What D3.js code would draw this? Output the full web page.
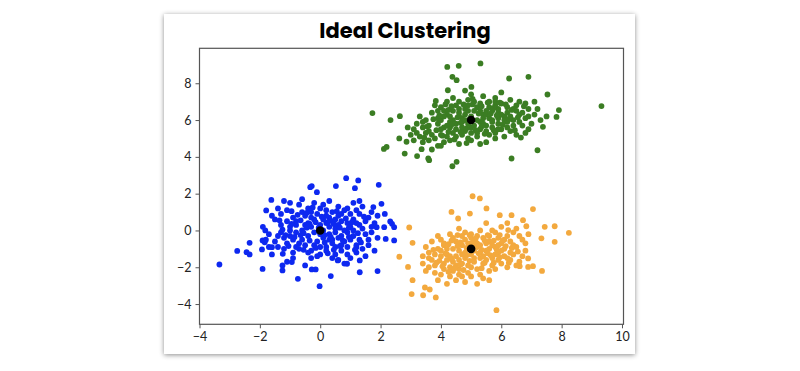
<!DOCTYPE html>
<html>
<head>
<meta charset="utf-8">
<script src="https://cdn.jsdelivr.net/npm/d3@7"></script>
<style>
  body { margin: 0; background: #fff; }
  .axis text { font-family: Lato, "Noto Sans", sans-serif; font-size: 12.5px; fill: #222; }
  .axis path, .axis line { stroke: #555; }
</style>
</head>
<body>
<script>
// cluster points
var greenPoints = [
  [1.73,6.38],[2.33,6.0],[2.64,6.21],[4.21,8.89],[4.59,8.95],[5.31,9.08],[4.38,8.35],[4.52,8.17],[6.26,8.26],[6.9,8.35],
  [9.32,6.76],[7.53,7.39],[7.91,6.54],[7.83,6.17],[2.11,4.43],[2.2,4.54],[2.8,4.18],[3.21,4.04],[3.61,3.82],[3.58,3.91],
  [4.38,3.49],[4.52,3.73],[6.34,3.91],[7.2,4.36],[4.23,7.62],[5.01,7.8],[3.83,7.04],[2.62,5.0],[2.86,4.82],[3.36,4.42],[7.38,5.63],
  [4.2,6.3],[4.8,6.6],[5.5,5.7],[5.9,6.4],[4.5,5.5],[3.9,5.8],[6.2,5.9],[5.3,6.9],[4.7,5.2],[5.8,5.3],
  [3.6,5.4],[6.5,6.5],[4.0,6.7],[5.0,5.6],[5.4,6.3],[4.4,6.0],[6.0,6.9],[3.3,5.1],[6.8,6.1],[4.9,7.1],
  [5.7,6.0],[4.6,6.4],[3.8,5.0],[6.3,5.4],[5.2,5.1],[4.1,5.6],[5.6,6.7],[6.6,7.0],[3.5,6.0],[4.3,4.9],
  [5.0,6.2],[5.3,5.9],[4.7,5.9],[6.1,6.2],[4.9,6.8],[3.7,6.4],[5.8,7.2],[6.9,6.6],[4.4,5.3],[5.5,5.4],
  [3.1,5.5],[4.0,5.2],[6.4,6.0],[5.1,6.5],[4.6,7.0],[5.9,5.8],[3.4,4.8],[7.1,6.3],[4.8,5.4],[5.7,6.5],
  [4.2,5.7],[6.2,6.7],[5.4,7.3],[3.9,6.1],[6.7,5.7],[4.5,6.8],[5.0,4.9],[5.6,6.1],[3.2,5.8],[6.0,5.5],
  [4.1,6.5],[5.2,6.7],[4.7,6.1],[6.5,6.8],[3.6,5.7],[5.8,5.0],[4.3,6.2],[6.9,5.5],[5.3,5.5],[4.9,5.8],
  [3.9,4.6],[6.3,7.1],[4.6,4.7],[5.5,6.5],[3.0,5.2],[7.3,6.0],[4.4,7.2],[5.9,6.6],[4.0,6.0],[6.1,5.1],
  [5.0,7.4],[3.5,5.3],[6.6,6.3],[4.8,6.3],[5.7,5.6],[4.2,5.1],[6.4,5.7],[3.8,6.8],[5.2,5.3],[6.8,6.9],
  [4.5,5.8],[5.4,6.1],[3.3,6.2],[6.0,7.5],[4.9,5.0],[5.6,7.0],[7.0,5.8],[4.1,4.8],[5.9,6.1],[3.7,5.2],
  [4.6,6.6],[6.2,6.4],[5.1,5.7],[3.4,5.6],[6.7,6.4],[4.3,5.6],[5.8,6.8],[4.8,7.6],[7.2,6.6],[5.5,4.8],
  [4.0,5.5],[6.1,6.0],[3.1,4.9],[5.3,6.5],[4.7,5.6],[6.5,5.2],[3.9,6.5],[5.7,5.9],[4.4,6.5],[6.3,6.2],
  [2.9,5.6],[5.0,5.3],[7.5,6.2],[4.2,7.0],[5.6,5.2],[3.6,4.9],[6.8,5.3],[4.9,6.5],[5.2,6.0],[6.0,6.3],
  [3.4,5.9],[4.5,5.1],[5.8,7.0],[6.6,5.9],[4.1,6.2],[5.4,5.8],[3.7,4.4],[7.1,7.0],[4.6,6.2],[5.9,5.5],
  [4.8,6.0],[6.4,6.6],[3.2,5.3],[5.1,7.0],[6.2,5.6],[4.3,5.9],[5.5,6.3],[4.0,4.6],[6.9,6.2],[5.3,4.7],
  [4.55,6.15],[5.25,6.35],[4.85,5.55],[5.65,6.35],[4.35,5.75],[5.95,6.95],[4.15,6.85],[5.45,5.25],[6.35,6.55],[3.85,5.45],
  [5.05,6.85],[4.65,5.35],[6.05,5.75],[4.25,6.55],[5.75,5.45],[3.55,5.65],[6.55,6.15],[4.95,6.05],[5.35,6.75],[4.45,4.95],
  [6.15,6.85],[3.95,6.25],[5.15,5.45],[5.85,6.25],[4.75,6.85],[6.45,5.45],[4.05,5.15],[5.55,6.95],[3.75,6.05],[6.75,6.75],
  [4.65,5.85],[5.35,5.65],[4.25,5.35],[6.25,6.05],[5.05,7.15],[3.45,5.05],[5.75,6.65],[4.85,4.75],[6.65,5.05],[4.35,6.75]
];

var bluePoints = [
  [-3.34,-1.85],[-2.75,-1.11],[-2.44,-1.18],[-2.34,-1.3],[-2.34,-0.67],[-1.91,-2.09],[-1.93,-1.03],[-1.91,-0.54],[-1.84,-0.64],[-1.82,0],
  [-1.79,1.09],[-1.62,1.66],[-1.25,-1.9],[-1.25,-2.17],[-0.94,-1.72],[-0.74,-2.63],[-1.6,-0.91],[-1.24,-1.27],[-0.33,2.35],
  [0.86,2.84],[1.26,2.72],[0.52,2.41],[1.15,2.3],[1.94,2.48],[-0.28,2.41],[-0.11,2.08],[2.03,1.45],[1.76,1.27],[2.14,0.9],
  [2.32,0.49],[2.38,0.36],[1.87,0.18],[2.12,0.18],[2.45,0.18],[2.17,-0.46],[2.45,-0.54],[0.89,-1.81],[1.31,-1.63],[1.31,-2.27],
  [1.9,-2.21],[-0.28,-2.12],[-0.15,-2.12],[0.35,-2.48],[-0.02,-3.03],[0.58,-1.63],[1.2,-0.91],
  [-0.8,0.3],[0.4,-0.5],[1.1,0.6],[-0.3,1.0],[0.7,-1.1],[-1.2,-0.4],[0.2,0.4],[1.5,-0.2],[-0.5,-0.8],[0.9,1.2],
  [-1.5,0.6],[0.0,-1.3],[1.3,0.9],[-0.9,-1.2],[0.5,0.1],[-0.2,0.6],[1.8,0.4],[-1.1,1.1],[0.3,-0.2],[0.8,-0.6],
  [-0.6,0.0],[1.0,0.2],[-1.4,-0.9],[0.1,1.4],[1.6,-0.8],[-0.4,-0.3],[0.6,0.8],[-1.0,0.2],[1.2,-1.2],[-0.1,-0.6],
  [0.4,1.0],[-1.7,-0.2],[0.9,-0.1],[-0.7,1.4],[1.4,0.1],[-0.3,-1.5],[0.2,-0.9],[-1.3,0.9],[1.9,-0.4],[0.6,-1.6],
  [-0.9,-0.5],[0.0,0.3],[1.1,1.5],[-0.5,0.8],[0.7,0.5],[-1.6,-1.3],[1.7,1.0],[-0.2,-0.1],[0.3,0.7],[-1.1,-1.7],
  [0.9,-0.9],[-0.6,1.7],[1.3,-0.5],[0.1,-0.4],[-0.8,-0.1],[1.6,0.7],[-1.3,0.3],[0.5,-1.3],[-0.4,0.4],[1.0,-1.5],
  [-1.9,0.2],[0.2,1.1],[1.4,-1.0],[-0.7,-1.0],[0.8,0.0],[-1.0,1.5],[0.4,-0.7],[1.2,1.1],[-0.1,0.9],[-1.5,-0.6],
  [0.6,0.3],[1.8,-1.1],[-0.3,-1.1],[0.0,-0.2],[-0.9,0.7],[1.1,-0.3],[0.3,1.6],[-1.2,-1.0],[0.7,-0.3],[1.5,0.5],
  [-0.5,-1.9],[0.1,0.6],[-1.4,1.2],[1.0,0.9],[-0.2,-0.8],[0.5,-0.1],[-0.8,0.5],[1.3,0.3],[-1.7,-0.9],[0.9,-1.3],
  [-0.4,1.2],[0.2,-1.1],[1.7,-0.1],[-1.0,-0.3],[0.6,1.3],[-0.6,-0.5],[1.2,-0.8],[-1.3,-0.1],[0.4,0.5],[0.0,1.2],
  [-1.1,0.5],[0.8,-1.8],[1.9,0.8],[-0.3,0.2],[-0.9,-1.5],[1.4,1.3],[0.3,-0.5],[-1.6,0.8],[0.7,0.9],[-0.1,-1.4],
  [1.0,-0.5],[-0.5,0.3],[0.5,-0.9],[1.6,-0.5],[-1.2,1.6],[0.1,0.0],[-0.7,-0.7],[1.1,0.0],[-0.2,1.5],[0.9,0.4],
  [-1.4,-0.3],[0.6,-0.4],[1.3,1.6],[-0.4,-1.2],[0.2,0.8],[-1.0,0.0],[1.5,-1.4],[-0.6,1.0],[0.4,-1.5],[0.8,1.1],
  [-1.8,-0.5],[0.0,-0.9],[1.2,0.4],[-0.8,-0.9],[0.3,0.2],[-0.3,0.7],[1.7,0.2],[-1.1,-0.7],[0.7,-0.8],[0.5,0.6],
  [-0.45,0.15],[0.35,-0.35],[-0.15,0.45],[0.65,0.15],[-0.65,-0.25],[0.15,-0.65],[-0.95,0.35],[0.85,0.65],[-0.35,-0.55],[1.25,-0.15],
  [-0.75,0.85],[0.45,0.35],[-1.15,-0.25],[0.95,-0.35],[-0.25,1.25],[0.25,-1.25],[-1.35,0.55],[1.45,0.75],[-0.55,-1.05],[0.55,1.05],
  [-0.05,0.15],[0.75,-0.55],[-0.85,-0.35],[1.05,0.45],[-0.45,0.95],[0.15,-0.25],[-1.05,-0.85],[1.35,-0.65],[-0.15,-0.95],[0.05,0.75],
  [-0.65,0.55],[0.95,0.15],[-1.25,0.05],[0.45,-1.05],[-0.35,0.35],[1.15,-1.05],[-0.95,1.05],[0.25,0.45],[-0.55,-0.15],[0.65,-0.85]
];

var orangePoints = [
  [5.05,1.86],[5.29,1.74],[7.05,1.16],[4.35,1.01],[2.95,0.16],[2.62,-1.43],[8.24,-0.13],[7.77,-0.62],[7.77,0.23],[7.44,0.2],
  [7.33,-0.43],[7.35,-2.2],[7.05,-1.94],[6.89,-1.98],[6.61,-1.94],[6.89,-1.52],[5.84,-4.33],[3.03,-3.46],[3.41,-3.52],[3.83,-3.64],
  [2.91,-1.98],[3.47,-3.1],[3.63,-3.21],[3.06,-0.67],[6.72,0.56],[6.83,0.23],[6.23,0.02],[6.34,0.83],[5.95,0.83],[5.51,1.2],
  [4.57,0.65],[4.96,0.92],[3.06,-2.7],
  [4.2,-1.3],[5.6,-0.6],[4.7,-1.8],[5.9,-1.2],[4.4,-0.4],[5.3,-1.5],[6.2,-0.3],[3.8,-1.9],[5.0,-0.2],[4.9,-2.3],
  [5.7,-1.9],[4.1,-0.8],[6.5,-0.9],[5.2,-0.9],[3.6,-1.5],[4.6,-1.1],[6.0,0.2],[5.4,-2.6],[4.0,-2.4],[6.3,-1.6],
  [4.8,-0.5],[5.5,-1.1],[3.9,-1.0],[6.7,-0.5],[4.3,-2.0],[5.1,-1.7],[5.8,-0.1],[4.5,-2.7],[6.1,-1.0],[3.5,-2.2],
  [5.0,-1.3],[4.7,-0.8],[6.4,-1.3],[5.3,0.0],[4.2,-1.6],[5.6,-2.2],[3.7,-0.6],[6.8,-1.1],[4.9,-1.0],[5.4,-0.4],
  [4.0,-1.4],[6.0,-0.7],[4.6,-2.1],[5.2,-2.9],[3.4,-1.8],[6.5,0.1],[5.7,-1.5],[4.4,-1.0],[5.1,-0.6],[6.2,-2.0],
  [3.9,-2.7],[5.8,-0.9],[4.8,-1.5],[4.3,-0.2],[5.5,0.4],[6.6,-1.7],[4.1,-2.1],[5.0,-2.0],[5.9,-0.4],[3.6,-1.2],
  [4.7,-2.5],[6.3,-0.6],[5.3,-1.2],[4.5,-0.6],[6.9,-0.2],[5.6,-2.7],[4.2,-1.0],[5.2,-0.3],[3.8,-2.3],[6.1,-1.4],
  [4.9,-1.9],[5.7,-0.8],[4.4,-1.7],[6.4,-0.8],[5.0,-0.9],[3.5,-0.9],[5.4,-1.8],[4.6,0.1],[6.0,-1.8],[4.0,-0.5],
  [5.8,-1.3],[4.8,-2.8],[6.7,-1.4],[5.1,-1.1],[4.3,-2.5],[5.5,-0.7],[3.7,-1.6],[6.2,0.4],[4.7,-1.3],[5.3,-2.4],
  [4.1,-1.8],[5.9,-1.6],[4.5,-1.4],[6.5,-1.9],[5.2,-0.7],[3.9,-0.3],[5.6,-1.0],[4.8,-0.1],[6.1,-0.5],[4.2,-2.9],
  [5.4,-1.4],[4.6,-1.6],[6.8,-0.7],[5.0,-2.5],[3.6,-2.0],[5.7,0.0],[4.4,-2.2],[6.3,-1.2],[4.9,-0.7],[5.1,-1.5],
  [4.0,-1.1],[5.8,-2.1],[4.7,-0.3],[6.0,-1.1],[3.8,-1.3],[5.3,-0.8],[4.3,-1.4],[6.6,-0.3],[5.5,-1.6],[4.5,-1.9],
  [5.9,-0.8],[4.1,-0.7],[5.2,-2.1],[6.4,-0.1],[4.8,-1.2],[3.4,-1.4],[5.6,-0.3],[4.6,-2.4],[6.2,-1.5],[5.0,-0.4],
  [4.55,-0.85],[5.35,-1.05],[4.85,-1.35],[5.75,-0.55],[4.35,-1.55],[5.15,-0.45],[5.95,-1.45],[4.65,-0.65],[5.45,-1.75],[4.25,-0.75],
  [6.15,-0.85],[4.95,-1.65],[5.55,-0.25],[4.45,-2.05],[6.35,-0.95],[3.95,-1.65],[5.25,-1.25],[4.75,-2.15],[5.85,-1.05],[4.15,-1.25],
  [5.65,-1.35],[4.55,-0.25],[6.55,-1.15],[5.05,-0.65],[4.05,-1.95],[5.95,-0.25],[4.85,-0.95],[5.35,-2.05],[4.25,-2.25],[6.05,-0.55],
  [3.75,-1.05],[5.15,-0.85],[4.65,-1.85],[5.45,-0.55],[6.25,-1.75],[4.35,-0.55],[5.75,-1.75],[4.95,-0.25],[3.85,-1.75],[5.55,-1.25]
];

var centers = [[0, 0], [5, 6], [5, -1]];
var xTicks = [-4, -2, 0, 2, 4, 6, 8, 10];
var yTicks = [-4, -2, 0, 2, 4, 6, 8];
var title = "Ideal Clustering";

var width = 800;
var height = 371;

var svg = d3.select("body")
  .append("svg")
  .attr("width", width)
  .attr("height", height);

//卡片阴影
var defs = svg.append("defs");
defs.append("filter")
  .attr("id", "shadow")
  .attr("x", "-10%").attr("y", "-10%")
  .attr("width", "120%").attr("height", "120%")
  .append("feDropShadow")
  .attr("dx", 0).attr("dy", 1)
  .attr("stdDeviation", 2.5)
  .attr("flood-color", "#000")
  .attr("flood-opacity", 0.45);

svg.append("rect")
  .attr("x", 164).attr("y", 14)
  .attr("width", 471).attr("height", 340)
  .attr("fill", "#fff")
  .attr("filter", "url(#shadow)");

//比例尺
var xScale = d3.scaleLinear().domain([-4, 10.05]).range([199.5, 623.5]);
var yScale = d3.scaleLinear().domain([-5.1, 9.9]).range([324.3, 48.3]);

//标题
svg.append("text")
  .attr("x", 405)
  .attr("y", 38)
  .attr("text-anchor", "middle")
  .style("font-family", "Poppins, Lato, 'Noto Sans', sans-serif")
  .style("font-weight", "700")
  .style("font-size", "21px")
  .style("fill", "#000")
  .text(title);

//散点
function drawPoints(data, color) {
  svg.append("g")
    .selectAll("circle")
    .data(data)
    .enter()
    .append("circle")
    .attr("cx", function (d) { return xScale(d[0]); })
    .attr("cy", function (d) { return yScale(d[1]); })
    .attr("r", 2.9)
    .attr("fill", color);
}
drawPoints(bluePoints, "#0d28f0");
drawPoints(greenPoints, "#3b7d23");
drawPoints(orangePoints, "#f3a93e");

//中心点
svg.append("g")
  .selectAll("circle")
  .data(centers)
  .enter()
  .append("circle")
  .attr("cx", function (d) { return xScale(d[0]); })
  .attr("cy", function (d) { return yScale(d[1]); })
  .attr("r", 4.3)
  .attr("fill", "#000");

//坐标轴
svg.append("g")
  .attr("class", "axis")
  .attr("transform", "translate(0," + 324.3 + ")")
  .call(d3.axisBottom(xScale).tickValues(xTicks).tickSize(4).tickPadding(4).tickSizeOuter(0))
  .call(function (g) { g.select(".domain").remove(); });

svg.append("g")
  .attr("class", "axis")
  .attr("transform", "translate(" + 199.5 + ",0)")
  .call(d3.axisLeft(yScale).tickValues(yTicks).tickSize(4).tickPadding(4).tickSizeOuter(0))
  .call(function (g) { g.select(".domain").remove(); });

//边框
svg.append("rect")
  .attr("x", 199.5).attr("y", 48.3)
  .attr("width", 424).attr("height", 276)
  .attr("fill", "none")
  .attr("stroke", "#555")
  .attr("stroke-width", 1.2);
</script>
</body>
</html>
